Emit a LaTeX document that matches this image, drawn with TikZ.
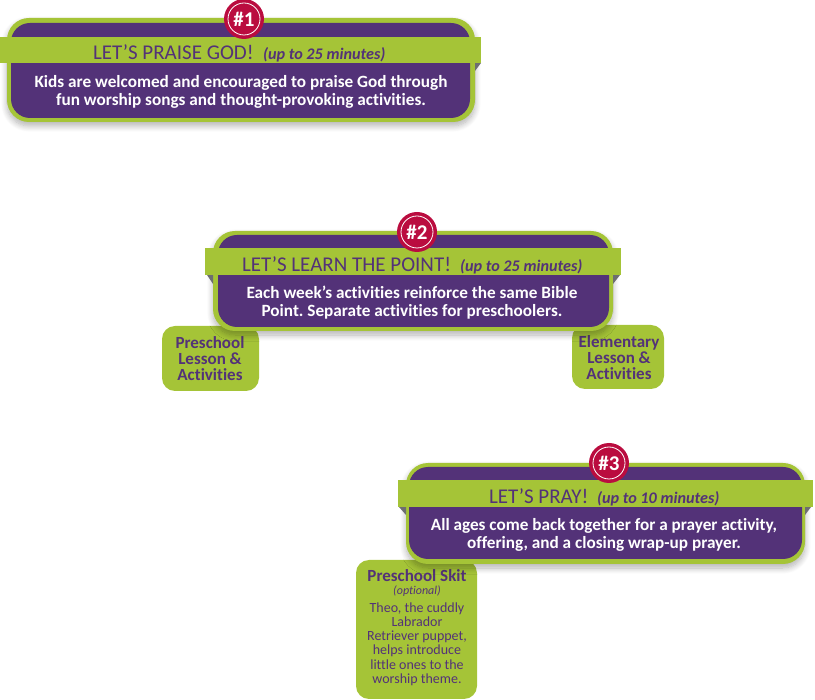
\documentclass[tikz,border=0pt]{standalone}
\usepackage{fontspec}
\setmainfont[Ligatures=NoCommon]{Carlito}
\usetikzlibrary{shadows.blur}
\definecolor{grape}{HTML}{533278}
\definecolor{leaf}{HTML}{A5C437}
\definecolor{ruby}{HTML}{BA0C3F}
\definecolor{fold}{HTML}{6D6E71}
\begin{document}
\frenchspacing
\begin{tikzpicture}[x=1pt,y=-1pt]
	\tikzstyle{every node}+=[inner sep=0pt,outer sep=0pt]
	\tikzstyle{framebox}=[fill=leaf,rounded corners=22pt,blur shadow={shadow xshift=0pt,shadow yshift=-4pt,shadow blur radius=6pt,shadow blur steps=10,shadow opacity=30}]
	\tikzstyle{purplebox}=[fill=grape,rounded corners=19pt]
	\tikzstyle{bannerbox}=[fill=leaf]
	\tikzstyle{sidebox}=[fill=leaf,rounded corners=13pt]
	\tikzstyle{foldtip}=[fill=fold]
	\tikzstyle{badge}=[circle,fill=ruby,minimum size=40pt]
	\tikzstyle{badgering}=[circle,draw=white,line width=0.8pt,minimum size=32pt,text=white,font=\fontsize{21}{21}\selectfont\bfseries]
	\tikzstyle{titletext}=[text=grape,anchor=base west,font=\fontsize{21}{21}\selectfont]
	\tikzstyle{timetext}=[text=grape,anchor=base west,font=\fontsize{16.2}{16.2}\selectfont\bfseries\itshape]
	\tikzstyle{bodytext}=[text=white,align=center,font=\fontsize{17.2}{18}\selectfont\bfseries]
	\tikzstyle{sidetext}=[text=grape,align=center,font=\fontsize{17}{16}\selectfont\bfseries]
	\tikzstyle{skittext}=[text=grape,align=center,font=\fontsize{14}{14.2}\selectfont]
	\useasboundingbox (0,0) rectangle (815,700);

	% side boxes sit under the cards
	\node [sidebox,minimum width=97pt,minimum height=65pt] (preschoolbox) at (210.5,358.5) {};
	\node [sidetext] (preschooltext) at (210,359) {Preschool\\Lesson \&\\Activities};
	\node [sidebox,minimum width=92pt,minimum height=64pt] (elementarybox) at (618,357) {};
	\node [sidetext] (elementarytext) at (619,358) {Elementary\\Lesson \&\\Activities};
	\node [sidebox,minimum width=121pt,minimum height=139pt] (skitbox) at (416.5,629.5) {};
	\node [sidetext] (skittitle) at (417,576) {Preschool Skit};
	\node [text=grape,font=\fontsize{12}{12}\selectfont\itshape] (skitnote) at (417,591) {(optional)};
	\node [skittext] (skittext) at (417,644) {Theo, the cuddly\\Labrador\\Retriever puppet,\\helps introduce\\little ones to the\\worship theme.};

	% card 1
	\node [framebox,minimum width=468pt,minimum height=104pt] (frameone) at (241,70) {};
	\fill [foldtip] (475,63) -- (481,63) -- (475,71) -- cycle;
	\node [purplebox,minimum width=459pt,minimum height=95pt] (purpleone) at (240.5,70.5) {};
	\node [bannerbox,minimum width=481pt,minimum height=26pt] (bannerone) at (240.5,50) {};
	\node [badge] (badgeone) at (244,19) {};
	\node [badgering] (ringone) at (244,19) {\#1};
	\node [titletext] (titleone) at (93,59.5) {LET’S PRAISE GOD!};
	\node [timetext] (timeone) at (263,59.5) {(up to 25 minutes)};
	\node [bodytext] (bodyone) at (241,91.5) {Kids are welcomed and encouraged to praise God through\\fun worship songs and thought-provoking activities.};

	% card 2
	\node [framebox,minimum width=400pt,minimum height=100pt] (frametwo) at (413,281) {};
	\fill [foldtip] (207,275) -- (213,275) -- (213,284) -- cycle;
	\fill [foldtip] (613,275) -- (620,275) -- (613,284) -- cycle;
	\node [purplebox,minimum width=391pt,minimum height=92pt] (purpletwo) at (413.5,281) {};
	\node [bannerbox,minimum width=416pt,minimum height=27pt] (bannertwo) at (413,261.5) {};
	\node [badge] (badgetwo) at (417,232) {};
	\node [badgering] (ringtwo) at (417,232) {\#2};
	\node [titletext] (titletwo) at (242,271.5) {LET’S LEARN THE POINT!};
	\node [timetext] (timetwo) at (460,271.5) {(up to 25 minutes)};
	\node [bodytext] (bodytwo) at (412,303) {Each week’s activities reinforce the same Bible\\Point. Separate activities for preschoolers.};

	% card 3
	\node [framebox,minimum width=399pt,minimum height=101pt] (framethree) at (605.5,513.5) {};
	\fill [foldtip] (399,507) -- (406,507) -- (406,515) -- cycle;
	\fill [foldtip] (805,507) -- (811,507) -- (805,515) -- cycle;
	\node [purplebox,minimum width=393pt,minimum height=92pt] (purplethree) at (605.5,513) {};
	\node [bannerbox,minimum width=415pt,minimum height=27pt] (bannerthree) at (605.5,493.5) {};
	\node [badge] (badgethree) at (609,463) {};
	\node [badgering] (ringthree) at (609,463) {\#3};
	\node [titletext] (titlethree) at (489,503.5) {LET’S PRAY!};
	\node [timetext] (timethree) at (597,503.5) {(up to 10 minutes)};
	\node [bodytext] (bodythree) at (604,535) {All ages come back together for a prayer activity,\\offering, and a closing wrap-up prayer.};
\end{tikzpicture}
\end{document}
